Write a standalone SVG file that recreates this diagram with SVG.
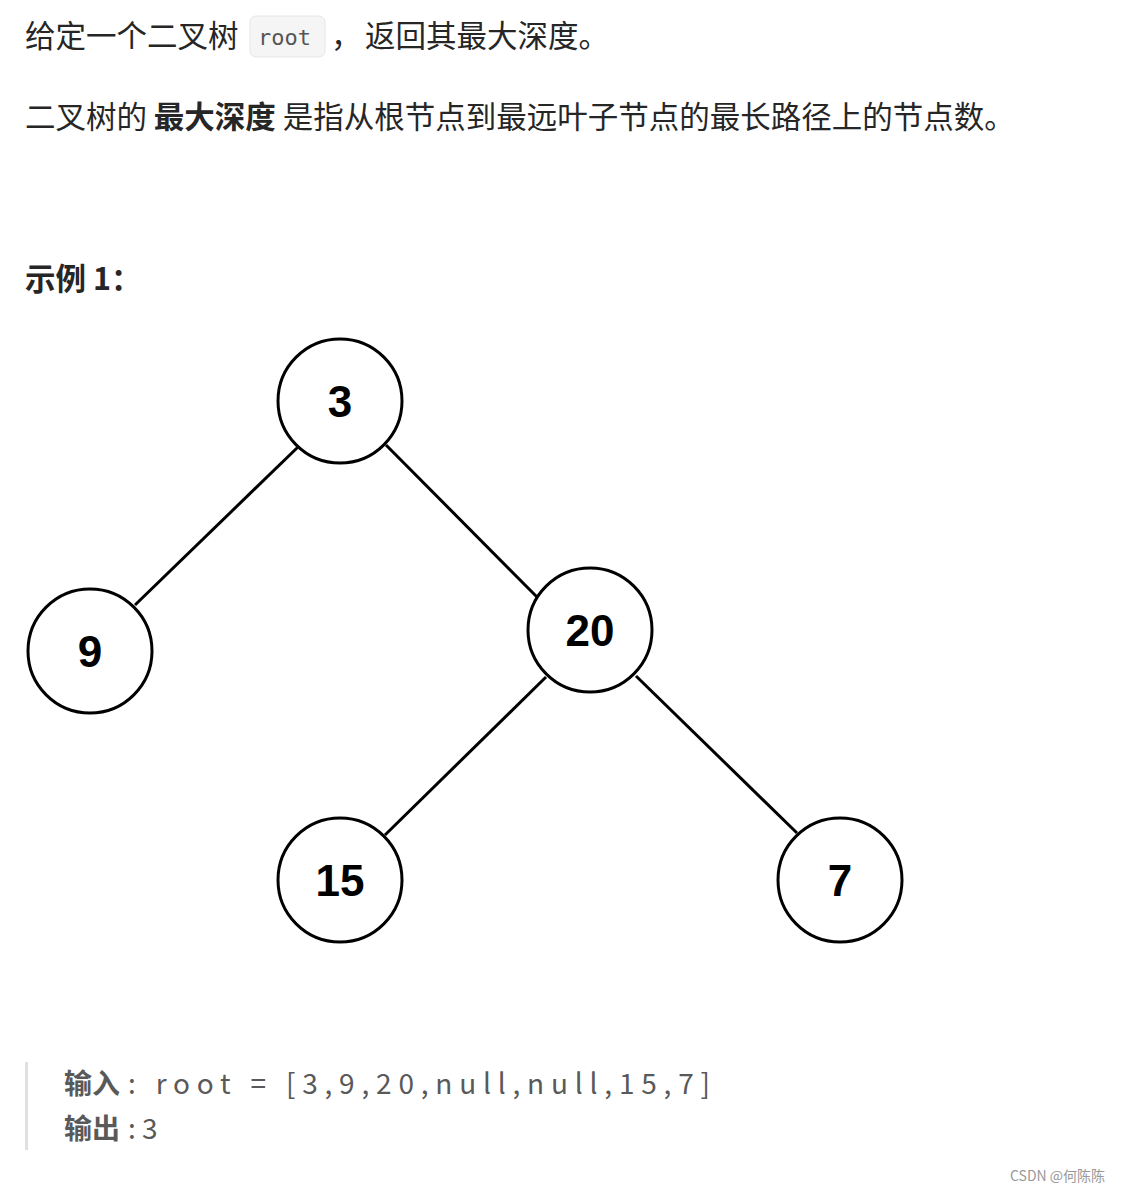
<svg xmlns="http://www.w3.org/2000/svg" width="1126" height="1192" viewBox="0 0 1126 1192">
<style>
.t{font-family:"Noto Sans CJK SC","Noto Sans",sans-serif;font-size:30.5px;fill:#262626}
.b{font-weight:bold}
.m{font-family:"DejaVu Sans Mono","Liberation Mono",monospace}
.n{fill:#fff;stroke:#000;stroke-width:3}
.l{font-family:"Liberation Sans",Arial,sans-serif;font-weight:bold;font-size:44px;fill:#000;text-anchor:middle}
.e{stroke:#000;stroke-width:3}
.o{font-family:"Noto Sans CJK SC",sans-serif;font-size:28px;fill:#595959}
</style>
<rect width="1126" height="1192" fill="#fff"/>
<text class="t" x="25" y="47">给定一个二叉树</text>
<rect x="250" y="16" width="75" height="41" rx="6" fill="#f5f5f5" stroke="#e6e6e6"/>
<text class="m" x="258" y="45" font-size="22" fill="#555">root</text>
<text class="t" x="331" y="47">，</text>
<text class="t" x="365" y="47">返回其最大深度。</text>
<text class="t" x="25" y="128">二叉树的 <tspan class="b">最大深度</tspan> 是指从根节点到最远叶子节点的最长路径上的节点数。</text>
<text class="t b" x="25" y="290" font-size="28">示例 1：</text>
<g id="connectors">
<line class="e" x1="298" y1="447" x2="135" y2="605"/>
<line class="e" x1="386" y1="445" x2="537" y2="597"/>
<line class="e" x1="546" y1="677" x2="385" y2="835"/>
<line class="e" x1="636" y1="676" x2="797" y2="833"/>
</g>
<g id="n3"><circle class="n" cx="340" cy="401" r="62"/><text class="l" x="340" y="417">3</text></g>
<g id="n9"><circle class="n" cx="90" cy="651" r="62"/><text class="l" x="90" y="667">9</text></g>
<g id="n20"><circle class="n" cx="590" cy="630" r="62"/><text class="l" x="590" y="646">20</text></g>
<g id="n15"><circle class="n" cx="340" cy="880" r="62"/><text class="l" x="340" y="896">15</text></g>
<g id="n7"><circle class="n" cx="840" cy="880" r="62"/><text class="l" x="840" y="896">7</text></g>
<rect x="25" y="1062" width="3" height="88" fill="#e0e0e0"/>
<text class="o" x="64" y="1094" font-weight="bold">输入</text>
<text class="o m" x="128" y="1094" textLength="582">: root = [3,9,20,null,null,15,7]</text>
<text class="o" x="64" y="1139" font-weight="bold">输出</text>
<text class="o m" x="128" y="1139">: 3</text>
<text x="1010" y="1181" font-family="Noto Sans CJK SC,sans-serif" font-size="14" fill="#999">CSDN @何陈陈</text>
</svg>
